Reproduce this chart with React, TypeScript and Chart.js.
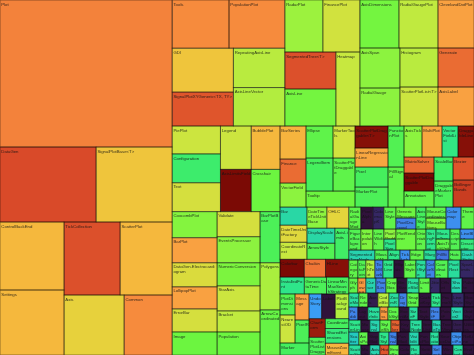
import { useEffect, useRef } from "react";
import { Chart, registerables } from "chart.js";

Chart.register(...registerables);

// Leaf: [class name, size (area units), colour metric 0..1]
type Leaf = [string, number, number];
type TreeNode = Leaf | TreeNode[];

const leftBlock: TreeNode[] = [
  ["Plot", 25284, 0.79],
  [["DataGen", 7200, 0.9], ["SignalPlotBase<T>", 5700, 0.64]],
  [
    [["ControlBackEnd", 4352, 0.67], ["Settings", 4160, 0.67]],
    [
      [["TickCollection", 4088, 0.89], ["ScatterPlot", 3796, 0.67]],
      [["Axis", 3600, 0.61], ["Common", 2880, 0.77]],
    ],
  ],
];

const topBlock: TreeNode[] = [
  [
    [["Tools", 2736, 0.77], ["PopulationPlot", 2688, 0.77]],
    [
      [["GDI", 2684, 0.64], ["SignalPlotXYGeneric<TX, TY>", 2074, 0.88]],
      [["RepeatingAxisLine", 2028, 0.52], ["AxisLineVector", 1976, 0.51]],
    ],
  ],
  [
    [["RadarPlot", 1976, 0.48], ["FinancePlot", 1924, 0.56]],
    [[["SegmentedTree<T>", 1887, 0.89], ["AxisLine", 1887, 0.43]], ["Heatmap", 1776, 0.54]],
  ],
  [
    [["AxisDimensions", 1872, 0.43], ["RadialGaugePlot", 1872, 0.53], ["ClevelandDotPlot", 1728, 0.72]],
    [
      [["AxisSpan", 1600, 0.46], ["RadialGauge", 1520, 0.46]],
      [
        [["Histogram", 1482, 0.52], ["Generate", 1404, 0.84]],
        [["ScatterPlotList<T>", 1482, 0.55], ["AxisLabel", 1404, 0.72]],
      ],
    ],
  ],
];

const middleBlock: TreeNode[] = [
  [
    [["PiePlot", 1344, 0.55], ["Configuration", 1392, 0.34], ["Text", 1392, 0.57]],
    [
      [["Legend", 1333, 0.55], ["BubblePlot", 1247, 0.67]],
      [["AxisLimitsField", 1302, 1.0], ["Crosshair", 1218, 0.42]],
    ],
  ],
  [
    [["CoxcombPlot", 1170, 0.45], ["BarPlot", 1125, 0.72]],
    [["Validate", 1075, 0.57], ["EventsProcessor", 1118, 0.46]],
    ["BarPlotBase", 1020, 0.37],
  ],
  [
    [["DataGen.Electrocardiogram", 1080, 0.58], ["LollipopPlot", 990, 0.72], ["ErrorBar", 1035, 0.57], ["Image", 1035, 0.42]],
    [["NumericConversion", 989, 0.44], ["StarAxis", 1075, 0.55], ["Bracket", 903, 0.53], ["Population", 989, 0.42]],
    [["Polygons", 940, 0.5], ["ArrowCoordinated", 900, 0.41]],
  ],
];

const rowBlock: TreeNode[] = [
  [["BarSeries", 858, 0.68], ["Finance", 624, 0.84], ["VectorField", 624, 0.46]],
  [
    [["Ellipse", 864, 0.4], ["MarkerTools", 704, 0.56]],
    [["LegendItem", 891, 0.36], ["ScatterPlotDraggable", 726, 0.4]],
    ["Tooltip", 784, 0.42],
  ],
  [["ScatterPlotDraggable<T>", 726, 0.99], ["LinearRegressionLine", 627, 0.71], ["Pixel", 660, 0.36], ["MarkerPlot", 660, 0.37]],
  [["FunctionPlot", 656, 0.38], ["FillSignal", 640, 0.4]],
  [
    [["AxisTicks", 558, 0.46], ["MultiPlot", 620, 0.71], ["VectorFieldList", 496, 0.31], ["DraggableLine", 496, 0.99]],
    [
      [["MatrixSolver", 480, 0.84], ["ScatterPlotDraggable", 540, 1.0], ["Annotation", 480, 0.4]],
      [["ScaleBar", 456, 0.35], ["DraggableMarkerPlot", 494, 0.37]],
      [["Bezier", 483, 0.88], ["BollingerBands", 567, 0.92]],
    ],
  ],
];

const lowerBlock: TreeNode[] = [
  [
    [["Bar", 486, 0.27], ["DateTimeUnitFactory", 459, 0.59], ["CoordinateRect", 459, 0.54]],
    [
      [["DateTimeTickUnitBase", 420, 0.46], ["OHLC", 462, 0.6]],
      [[["DisplayScale", 420, 0.27], ["ArrowStyle", 448, 0.38]], ["AxisLimits", 434, 0.35]],
    ],
  ],
  [["Colorbar", 432, 1.0], ["Chaikin", 378, 0.82], ["HLine", 414, 0.99]],
  [["InstalledFont", 408, 0.3], ["GenericDataTime", 374, 0.37], ["LinearMinMaxSearchStrategy", 374, 0.36]],
  [
    [
      [[["PlotDimensions", 315, 0.38], ["NearestOD", 420, 0.55]], [["Message", 364, 0.72], ["PixelR", 322, 0.37]]],
      ["Marker", 348, 0.36],
    ],
    [
      [["UndoStory", 312, 0.16], ["Label", 336, 0.0], ["PlotBackground", 336, 0.51]],
      [
        [["ChartForm", 304, 0.97], ["ScatterPlotListDraggable", 288, 0.37]],
        [["Coordinate", 230, 0.36], ["SharedExtensions", 345, 0.32], ["MouseZoomEvent", 276, 0.68]],
      ],
    ],
  ],
];

const denseRow1: TreeNode[] = [
  ["RadialGaugeMode", 264, 0.4], ["PixelAlpha", 264, 0.0], ["ColormapK", 242, 0.02], ["LineStyle", 264, 0.4],
  [["GenericMessage", 220, 0.42], ["PixelDragged", 220, 0.12]], ["AxisLineStyle", 220, 0.36],
  [["MouseCoordinates", 220, 0.4], ["MouseButtons", 220, 0.44]], ["Colormap", 330, 0.14], ["Theme", 286, 0.4],
];
const denseRow2: TreeNode[] = [
  ["FigureBackground", 252, 0.38], ["Interpolation", 252, 0.44], ["LineWidth", 231, 0.4],
  [["PixelPadding", 120, 0.46], ["PixelSize", 132, 0.3]], ["PlotRenderer", 420, 0.42], ["Orientation", 210, 0.4],
  ["StringFormat", 210, 0.3], [["MouseTracker", 140, 0.3], ["AxisTickUnit", 154, 0.4]], ["Description", 210, 0.38],
  [["LineBlur", 140, 0.14], ["Descriptor", 154, 0.32]],
];
const denseRow3: TreeNode[] = [
  ["SegmentedTreeNode", 260, 0.26], ["MouseWheel", 130, 0.38], ["Alignment", 120, 0.3], ["TickLabel", 100, 0.14],
  ["Edge", 140, 0.4], ["Margin", 120, 0.28], ["FillStyle", 130, 0.1], ["Hatch", 120, 0.38], ["DashStyle", 130, 0.26],
];
const denseRow4: TreeNode[] = [
  ["Category", 162, 0.4], ["DataPoint", 144, 0.38], ["RichText", 162, 0.5], ["TickMark", 144, 0.12], ["GridLine", 198, 0.3],
  ["Ellipsis", 180, 0.0], ["LabelStyle", 216, 0.4], ["FontStyle", 180, 0.28], ["ColorSet", 162, 0.12],
  ["Coordinates", 234, 0.38], ["PixelRect", 216, 0.28], ["SpanLimits", 252, 0.02],
];
const denseRow5: TreeNode[] = [
  ["Glyph", 135, 0.4], ["GlowEffect", 120, 0.74], ["Cursor", 150, 0.26], ["PixelLine", 150, 0.12], ["CropBox", 165, 0.4],
  ["BinSize", 150, 0.0], ["RangeSlider", 180, 0.28], ["Limits", 165, 0.4], ["Jitter", 150, 0.02], ["Offset", 165, 0.0],
  ["Shadow", 165, 0.26], ["Palette", 180, 0.0],
];
const denseRow6: TreeNode[] = [
  ["ScaleMode", 140, 0.28], ["RenderLock", 126, 0.4], ["Axes", 140, 0.01], ["CodeBlock", 154, 0.52], ["ZoomRect", 140, 0.28],
  ["DragMode", 112, 0.12], ["SnapGrid", 168, 0.4], ["CacheKey", 168, 0.0], ["TickStyle", 140, 0.3], ["FrameSize", 154, 0.0],
  ["LineStyles", 168, 0.02], ["BoxStyle", 140, 0.0],
];
const denseRow7: TreeNode[] = [
  ["PaddingRect", 117, 0.12], ["LayoutMode", 130, 0.0], ["HoverInfo", 156, 0.28], ["MessageBox", 104, 0.74],
  ["DockStyle", 143, 0.4], ["EventArgs", 130, 0.0], ["SizeF", 117, 0.28], ["TextStyle", 156, 0.0], ["RectF", 130, 0.12],
  ["PointF", 143, 0.0], ["Vector2", 156, 0.26], ["GridStyle", 143, 0.0],
];
const denseRow8: TreeNode[] = [
  ["ScatterLine", 144, 0.3], ["MouseState", 108, 0.0], ["SignalData", 120, 0.26], ["StyleSheet", 132, 0.4],
  ["Markers", 108, 0.86], ["KeyState", 120, 0.0], ["TreeNode", 144, 0.28], ["ItemList", 120, 0.0], ["BaseType", 108, 0.26],
  ["TreeView", 132, 0.0], ["Generator", 132, 0.01], ["Utilities", 132, 0.0],
];
const denseRow9: TreeNode[] = [
  ["ScatterStep", 130, 0.24], ["AxisPair", 117, 0.4], ["StepMode", 143, 0.0], ["TipStyle", 130, 0.3], ["SignalGen", 104, 0.12],
  ["PanMode", 156, 0.0], ["Visibility", 130, 0.26], ["FuncPlot", 143, 0.0], ["Rotation", 117, 0.28], ["SourceData", 156, 0.0],
  ["ObjectPool", 143, 0.14], ["RefLine", 156, 0.0],
];
const denseRow10: TreeNode[] = [
  ["ScatterStyle", 120, 0.28], ["MapData", 90, 0.0], ["AxisIndex", 100, 0.26], ["HistogramBin", 90, 0.88],
  ["ErrorRange", 100, 0.4], ["ColumnSet", 110, 0.0], ["RowSet", 100, 0.28], ["SettingSet", 120, 0.0],
  ["SelectionBox", 100, 0.12], ["WindowRect", 110, 0.0], ["ControlMode", 100, 0.28], ["EndPoint", 110, 0.0],
];

const denseBlock: TreeNode[] = [
  denseRow1, denseRow2, denseRow3, denseRow4, denseRow5, denseRow6, denseRow7, denseRow8, denseRow9, denseRow10,
];

const root: TreeNode[] = [leftBlock, [topBlock, [middleBlock, [rowBlock, [lowerBlock, denseBlock]]]]];

// colour map (turbo-like)
const colorStops: [number, [number, number, number]][] = [
  [0.0, [48, 18, 59]],
  [0.08, [69, 102, 217]],
  [0.16, [58, 157, 245]],
  [0.24, [35, 201, 192]],
  [0.3, [46, 229, 138]],
  [0.36, [69, 239, 93]],
  [0.42, [108, 245, 64]],
  [0.48, [156, 242, 62]],
  [0.54, [199, 232, 63]],
  [0.6, [228, 213, 60]],
  [0.66, [244, 189, 60]],
  [0.72, [249, 161, 65]],
  [0.78, [245, 134, 60]],
  [0.84, [234, 108, 51]],
  [0.9, [217, 74, 41]],
  [0.95, [176, 42, 20]],
  [1.0, [123, 10, 5]],
];

function colorFor(t: number): string {
  const v = Math.max(0, Math.min(1, t));
  for (let i = 1; i < colorStops.length; i++) {
    const [t1, c1] = colorStops[i];
    const [t0, c0] = colorStops[i - 1];
    if (v <= t1) {
      const f = (v - t0) / (t1 - t0 || 1);
      const c = c0.map((a, k) => Math.round(a + (c1[k] - a) * f));
      return `rgb(${c[0]},${c[1]},${c[2]})`;
    }
  }
  const c = colorStops[colorStops.length - 1][1];
  return `rgb(${c[0]},${c[1]},${c[2]})`;
}

function isLeaf(n: TreeNode): n is Leaf {
  return typeof (n as any)[0] === "string";
}
function total(n: TreeNode): number {
  return isLeaf(n) ? n[1] : (n as TreeNode[]).reduce((s, c) => s + total(c), 0);
}

type Cell = { x0: number; y0: number; x1: number; y1: number; leaf: Leaf };

function layoutNode(n: TreeNode, x0: number, y0: number, x1: number, y1: number, depth: number, out: Cell[]) {
  if (isLeaf(n)) {
    out.push({ x0, y0, x1, y1, leaf: n });
    return;
  }
  const kids = n as TreeNode[];
  const t = total(n);
  let acc = 0;
  for (const c of kids) {
    const v = total(c);
    const a = acc / t;
    const b = (acc + v) / t;
    acc += v;
    if (depth % 2 === 0) layoutNode(c, x0 + (x1 - x0) * a, y0, x0 + (x1 - x0) * b, y1, depth + 1, out);
    else layoutNode(c, x0, y0 + (y1 - y0) * a, x1, y0 + (y1 - y0) * b, depth + 1, out);
  }
}

const treemapPlugin = {
  id: "treemapCells",
  afterDatasetsDraw(chart: any) {
    const ctx: CanvasRenderingContext2D = chart.ctx;
    const xs = chart.scales.x;
    const ys = chart.scales.y;
    const cells: Cell[] = [];
    layoutNode(root, 0, 0, 1, 1, 0, cells);
    const rects = cells.map((c) => {
      const a = xs.getPixelForValue(c.x0);
      const b = xs.getPixelForValue(c.x1);
      const p = ys.getPixelForValue(c.y0);
      const q = ys.getPixelForValue(c.y1);
      return { l: Math.min(a, b), t: Math.min(p, q), w: Math.abs(b - a), h: Math.abs(q - p), leaf: c.leaf };
    });
    ctx.save();
    for (const r of rects) {
      ctx.fillStyle = colorFor(r.leaf[2]);
      ctx.fillRect(r.l, r.t, r.w, r.h);
    }
    ctx.strokeStyle = "rgba(0,0,0,0.45)";
    ctx.lineWidth = 0.9;
    for (const r of rects) ctx.strokeRect(r.l, r.t, r.w, r.h);

    ctx.font = "4.3px 'Liberation Sans', Arial, sans-serif";
    ctx.fillStyle = "rgba(20,20,20,0.85)";
    ctx.textBaseline = "alphabetic";
    for (const r of rects) {
      const maxW = r.w - 1.5;
      if (maxW <= 1 || r.h < 3) continue;
      const text = r.leaf[0];
      const lines: string[] = [];
      let cur = "";
      for (const ch of text) {
        if (cur.length > 0 && ctx.measureText(cur + ch).width > maxW) {
          lines.push(cur);
          cur = ch;
        } else cur += ch;
      }
      if (cur) lines.push(cur);
      ctx.save();
      ctx.beginPath();
      ctx.rect(r.l, r.t, r.w, r.h);
      ctx.clip();
      for (let i = 0; i < lines.length; i++) {
        const yy = r.t + 5.6 + i * 5;
        if (yy - 4 > r.t + r.h) break;
        ctx.fillText(lines[i], r.l + 1.3, yy);
      }
      ctx.restore();
    }
    ctx.restore();
  },
};

export default function App() {
  const ref = useRef<HTMLCanvasElement>(null);
  useEffect(() => {
    document.body.style.margin = "0";
    const canvas = ref.current!;
    const chart = new Chart(canvas, {
      type: "scatter",
      data: { datasets: [{ data: [], pointRadius: 0 }] },
      options: {
        animation: false,
        responsive: false,
        devicePixelRatio: 1,
        layout: { padding: 0 },
        plugins: { legend: { display: false }, tooltip: { enabled: false } },
        scales: {
          x: { type: "linear", min: 0, max: 1, display: false },
          y: { type: "linear", min: 0, max: 1, reverse: true, display: false },
        },
      },
      plugins: [treemapPlugin],
    });
    return () => chart.destroy();
  }, []);
  return (
    <div style={{ width: 474, height: 355 }}>
      <canvas ref={ref} width={474} height={355} style={{ display: "block" }} />
    </div>
  );
}
